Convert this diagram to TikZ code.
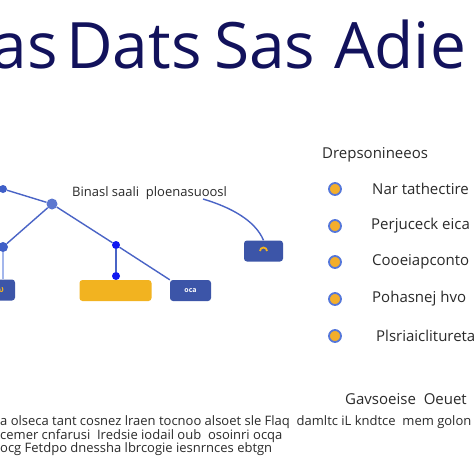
\documentclass[tikz,border=0pt]{standalone}
\usepackage{fontspec}
\setmainfont{Open Sans}
\usetikzlibrary{positioning}
\definecolor{navy}{HTML}{12125C}
\definecolor{dotblue}{HTML}{3F5FC8}
\definecolor{edgeblue}{HTML}{4A64C6}
\definecolor{paleblue}{HTML}{A3B6EC}
\definecolor{boxblue}{HTML}{3C55A8}
\definecolor{boxyellow}{HTML}{F2B320}
\definecolor{bulletfill}{HTML}{F3AE2B}
\definecolor{bulletring}{HTML}{5577DA}
\definecolor{textgrey}{HTML}{2A2A2A}
\tikzstyle{titleword}=[
      anchor = base west,
      inner sep = 0pt,
      text = navy,
      font = \fontsize{64}{70}\selectfont
      ]
\tikzstyle{dot}=[
      circle,
      inner sep = 0pt,
      minimum size = 8pt,
      fill = dotblue
      ]
\tikzstyle{edge}=[
      draw = edgeblue,
      line width = 1.4pt
      ]
\tikzstyle{bluebox}=[
      rectangle,
      rounded corners = 3pt,
      fill = boxblue,
      minimum height = 21pt,
      text = white,
      font = \fontsize{7}{8}\selectfont\bfseries
      ]
\tikzstyle{bullet}=[
      circle,
      inner sep = 0pt,
      minimum size = 12pt,
      fill = bulletfill,
      draw = bulletring,
      line width = 1.8pt
      ]
\tikzstyle{itemtext}=[
      anchor = west,
      inner sep = 0pt,
      text = textgrey,
      font = \fontsize{15}{17}\selectfont
      ]
\tikzstyle{bodyline}=[
      anchor = base west,
      inner sep = 0pt,
      text = textgrey,
      font = \fontsize{13}{15}\selectfont
      ]

\begin{document}
\begin{tikzpicture}[x=1pt,y=-1pt]
\useasboundingbox (0,0) rectangle (474,474);
\fill[white] (0,0) rectangle (474,474);
\clip (0,0) rectangle (474,474);

% title
\node [titleword, anchor = base east] (wAs) at (58,68) {as};
\node [titleword] (wDats) at (66,68) {Dats};
\node [titleword] (wSas) at (214,68) {Sas};
\node [titleword] (wAdie) at (334,68) {Adie};

% graph
\node [dot] (n1) at (3,189) {};
\node [dot, minimum size = 11pt, fill = dotblue!85] (n2) at (52,204) {};
\node [dot, minimum size = 10pt] (n3) at (3,247) {};
\node [dot, fill = blue!75!dotblue] (n4) at (116,245) {};
\node [dot, fill = blue!75!dotblue] (n5) at (116,276) {};
\node [bluebox, minimum width = 30pt, text = boxyellow, font = \fontsize{9}{9}\selectfont\bfseries] (bLeft) at (0,290) {ω};
\node [rectangle, rounded corners = 3pt, fill = boxyellow, minimum width = 72pt, minimum height = 21pt] (bYellow) at (115.5,290.5) {};
\node [bluebox, minimum width = 41pt] (bCa) at (190.5,290.5) {oca};
\node [bluebox, minimum width = 39pt] (bRight) at (263.5,251) {};
\draw [boxyellow, line width = 1.8pt] ([xshift=-3.5pt]bRight.center) arc (180:0:3.5pt);

\node [anchor = base west, inner sep = 0pt, text = textgrey, font = \fontsize{13}{15}\selectfont] (gLabel) at (72,196) {Binasl saali\ \ ploenasuoosl};
\coordinate (cStart) at (203,199);

\draw [edge] (n1) -- (n2);
\draw [edge] (n2) -- (n3);
\draw [edge] (n2) -- (n4);
\draw [edge] (n4) -- (bCa.north west);
\draw [edge] (n4) -- (n5);
\draw [paleblue, line width = 2.4pt] (n3) -- (bLeft.north -| n3);
\draw [edge] (cStart) .. controls (230,207) and (255,220) .. (bRight.north);

% legend
\node [anchor = base west, inner sep = 0pt, text = textgrey, font = \fontsize{15}{17}\selectfont] (legHead) at (322,158) {Drepsonineeos};
\foreach \y/\name/\txt/\dx in {189/i1/Nar tathectire/372, 226/i2/Perjuceck eica/371, 262/i3/Cooeiapconto/372, 299/i4/Pohasnej hvo/372, 336/i5/Plsriaiclitureta/376}{
  \node [bullet] (b\name) at (335,\y) {};
  \node [itemtext] (t\name) at (\dx,\y) {\txt};
}

% notes
\node [anchor = base west, inner sep = 0pt, text = textgrey, font = \fontsize{15}{17}\selectfont] (noteHead) at (345,404) {Gavsoeise\ \ Oeuet};
\node [bodyline] (line1) at (0,425) {a olseca tant cosnez lraen tocnoo alsoet sle Flaq\ \ damltc iL kndtce\ \ mem golon};
\node [bodyline] (line2) at (0,439) {cemer cnfarusi\ \ Iredsie iodail oub\ \ osoinri ocqa};
\node [bodyline] (line3) at (0,452) {ocg Fetdpo dnessha lbrcogie iesnrnces ebtgn};
\end{tikzpicture}
\end{document}
